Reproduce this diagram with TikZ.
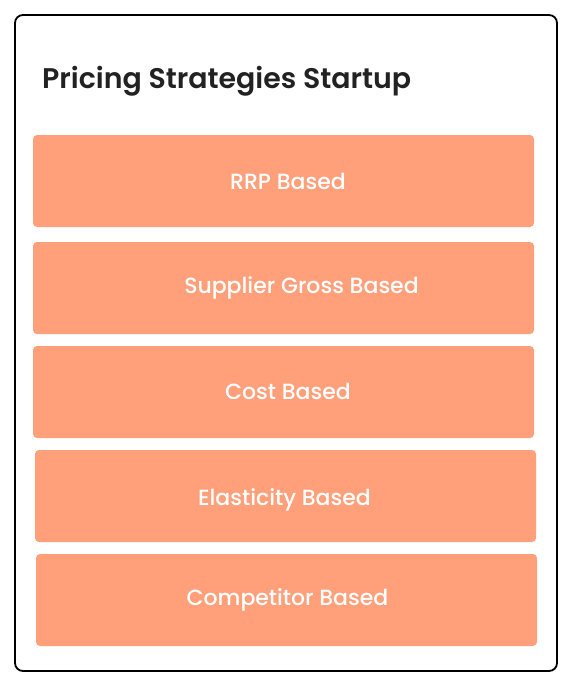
\documentclass[tikz,border=0pt]{standalone}
\usepackage{fontspec}
\setmainfont{Poppins}
\newfontfamily\medfont{Poppins Medium}
\newfontfamily\semifont{Poppins SemiBold}
\usetikzlibrary{calc, positioning}
\definecolor{salmonbox}{HTML}{FFA07A}
\definecolor{titlegray}{HTML}{222222}
\tikzset{
  frame/.style={draw=black, line width=1.8pt, rounded corners=8pt},
  stratbox/.style={fill=salmonbox, draw=none, rounded corners=4pt,
    minimum width=501pt, minimum height=92pt, inner sep=0pt},
  stratlabel/.style={text=white, font=\fontsize{22}{26}\selectfont\medfont, inner sep=0pt}
}

\begin{document}
\begin{tikzpicture}[x=1pt, y=-1pt]
\useasboundingbox (0,0) rectangle (574,691);
\draw[frame] (15,15) rectangle (557,671);
\node[anchor=base west, text=titlegray, inner sep=0pt,
  font=\fontsize{28.4}{32}\selectfont\semifont] (title) at (42,88) {Pricing Strategies Startup};
% the five strategies
\node[stratbox] (rrp) at (283.5,181) {};
\node[stratbox] (supplier) at (283.5,288) {};
\node[stratbox] (cost) at (283.5,392) {};
\node[stratbox] (elastic) at (285.5,496) {};
\node[stratbox] (competitor) at (286.5,600) {};
\node[stratlabel] (rrptext) at ($(rrp.center)+(4.5,0)$) {RRP Based};
\node[stratlabel] (suppliertext) at ($(supplier.center)+(18,0)$) {Supplier Gross Based};
\node[stratlabel] (costtext) at ($(cost.center)+(4.5,-1)$) {Cost Based};
\node[stratlabel] (elastictext) at ($(elastic.center)+(-1,4)$) {Elasticity Based};
\node[stratlabel] (competitortext) at ($(competitor.center)+(1,0)$) {Competitor Based};
\end{tikzpicture}
\end{document}
